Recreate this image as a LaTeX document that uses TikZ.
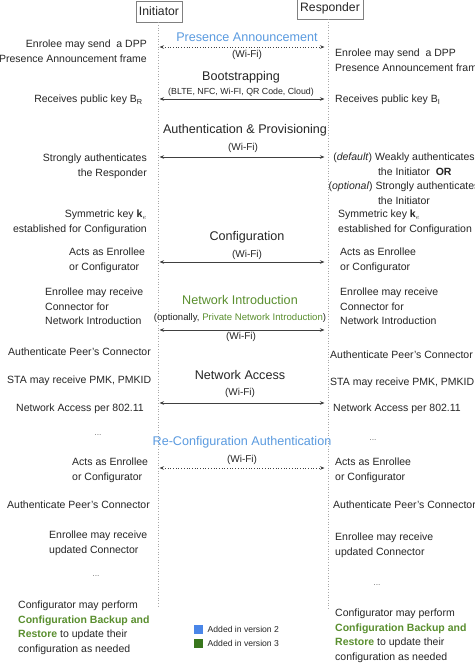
\documentclass[tikz,border=0pt]{standalone}
\usepackage{fontspec}
\setmainfont{Liberation Sans}
\usetikzlibrary{arrows.meta}
\definecolor{txt}{HTML}{262626}
\definecolor{bluet}{HTML}{5B9BE0}
\definecolor{greent}{HTML}{5A8F2F}
\definecolor{blueleg}{HTML}{4A86E8}
\definecolor{greenleg}{HTML}{38761D}
\definecolor{boxgray}{HTML}{808080}
\definecolor{lifegray}{HTML}{A8A8A8}
\definecolor{arrowc}{HTML}{404040}
\tikzset{
  body/.style={font=\fontsize{10.5}{14.5}\selectfont, inner sep=0pt, text=txt},
  lft/.style={body, align=right, anchor=north east},
  lfl/.style={body, align=left, anchor=north west},
  ctr/.style={body, align=center, anchor=north},
  ttl/.style={font=\fontsize{12.6}{15}\selectfont, inner sep=0pt, text=txt},
  wifi/.style={font=\fontsize{10}{12}\selectfont, inner sep=0pt, text=txt},
  small/.style={font=\fontsize{8.8}{11}\selectfont, inner sep=0pt, text=txt},
  dots/.style={font=\fontsize{8.5}{9}\selectfont, inner sep=0pt, text=txt!65},
  actor/.style={draw=boxgray, line width=0.8pt, font=\fontsize{12.2}{14}\selectfont, text=txt, inner sep=0pt},
  life/.style={draw=lifegray, dotted, line width=0.7pt},
  msg/.style={draw=arrowc, line width=0.7pt, {Stealth[length=4.5pt,width=3.5pt]}-{Stealth[length=4.5pt,width=3.5pt]}, shorten <=1pt, shorten >=4pt},
  msgd/.style={msg, dotted},
  lgsq/.style={minimum size=9pt, inner sep=0pt},
  lgtx/.style={font=\fontsize{8.6}{10}\selectfont, inner sep=0pt, text=txt, anchor=west},
}
\begin{document}
\begin{tikzpicture}[x=1pt,y=-1pt]
\useasboundingbox (0,0) rectangle (474,663);
\fill[white] (0,0) rectangle (474,663);

% actors
\node[actor, minimum width=46pt, minimum height=21pt] (ini) at (159,11.5) {Initiator};
\node[actor, minimum width=66pt, minimum height=22pt] (res) at (330,8) {Responder};
\coordinate (iniend) at (158.5,607);
\coordinate (resend) at (328.5,610);
\draw[life] (ini.south -| iniend) -- (iniend);
\draw[life] (res.south -| resend) -- (resend);

% message coordinates
\coordinate (i1) at (158.5,47);  \coordinate (r1) at (328.5,47);
\coordinate (i2) at (158.5,99);  \coordinate (r2) at (328.5,99);
\coordinate (i3) at (158.5,157); \coordinate (r3) at (328.5,157);
\coordinate (i4) at (158.5,262); \coordinate (r4) at (328.5,262);
\coordinate (i5) at (158.5,330); \coordinate (r5) at (328.5,330);
\coordinate (i6) at (158.5,403); \coordinate (r6) at (328.5,403);
\coordinate (i7) at (158.5,468); \coordinate (r7) at (328.5,468);
\draw[msgd] (i1) -- (r1);
\draw[msg] (i2) -- (r2);
\draw[msg] (i3) -- (r3);
\draw[msg] (i4) -- (r4);
\draw[msg] (i5) -- (r5);
\draw[msg] (i6) -- (r6);
\draw[msgd] (i7) -- (r7);

% titles
\node[ttl, text=bluet] (t1) at (247,37) {Presence Announcement};
\node[wifi] (w1) at (247,54.5) {(Wi-Fi)};
\node[ttl] (t2) at (241,77) {Bootstrapping};
\node[small] (s2) at (241,92) {(BLTE, NFC, Wi-FI, QR Code, Cloud)};
\node[ttl] (t3) at (245,130) {Authentication \& Provisioning};
\node[wifi] (w3) at (243,148) {(Wi-Fi)};
\node[ttl] (t4) at (247,237) {Configuration};
\node[wifi] (w4) at (247,255) {(Wi-Fi)};
\node[ttl, text=greent] (t5) at (240,300) {Network Introduction};
\node[font=\fontsize{9.6}{11}\selectfont, inner sep=0pt, text=txt] (s5) at (240,318) {(optionally, \textcolor{greent}{Private Network Introduction})};
\node[wifi] (w5) at (241,337) {(Wi-Fi)};
\node[ttl] (t6) at (240,375) {Network Access};
\node[wifi] (w6) at (240,393) {(Wi-Fi)};
\node[ttl, text=bluet] (t7) at (242,442) {Re-Configuration Authentication};
\node[wifi] (w7) at (242,460) {(Wi-Fi)};

% left column
\node[lft] (l1) at (147,40) {Enrolee may send\ \ a DPP\\Presence Announcement frame};
\node[lft] (l2) at (143,95) {Receives public key $\mathrm{B}_\mathrm{R}$};
\node[lft] (l3) at (147,154) {Strongly authenticates\\the Responder};
\node[lft] (l4) at (147,210) {Symmetric key $\mathbf{k}_e$\\established for Configuration};
\node[lfl] (l5) at (69,248) {Acts as Enrollee\\or Configurator};
\node[lfl] (l6) at (45,288) {Enrollee may receive\\Connector for\\Network Introduction};
\node[lfl] (l7) at (8,348) {Authenticate Peer's Connector};
\node[lfl] (l8) at (7,376) {STA may receive PMK, PMKID};
\node[lfl] (l9) at (16,404) {Network Access per 802.11};
\node[dots] (l10) at (98,435) {...};
\node[lfl] (l11) at (72,458) {Acts as Enrollee\\or Configurator};
\node[lfl] (l12) at (7,501) {Authenticate Peer's Connector};
\node[lfl] (l13) at (49,531) {Enrollee may receive\\updated Connector};
\node[dots] (l14) at (96,576) {...};
\node[lfl] (l15) at (18,601) {Configurator may perform\\\textcolor{greent}{\textbf{Configuration Backup and}}\\\textcolor{greent}{\textbf{Restore}} to update their\\configuration as needed};

% right column
\node[lfl] (r1t) at (335,49) {Enrolee may send\ \ a DPP\\Presence Announcement frame};
\node[lfl] (r2t) at (335,95) {Receives public key $\mathrm{B}_\mathrm{I}$};
\node[ctr] (r3t) at (404,153) {(\textit{default}) Weakly authenticates\\the Initiator\rlap{\ \ \textbf{OR}}\\(\textit{optional}) Strongly authenticates\\the Initiator};
\node[lfl] (r4t) at (338,210) {Symmetric key $\mathbf{k}_e$\\established for Configuration};
\node[lfl] (r5t) at (340,248) {Acts as Enrollee\\or Configurator};
\node[lfl] (r6t) at (340,288) {Enrollee may receive\\Connector for\\Network Introduction};
\node[lfl] (r7t) at (330,351) {Authenticate Peer's Connector};
\node[lfl] (r8t) at (330,378) {STA may receive PMK, PMKID};
\node[lfl] (r9t) at (333,404) {Network Access per 802.11};
\node[dots] (r10t) at (373,440) {...};
\node[lfl] (r11t) at (335,458) {Acts as Enrollee\\or Configurator};
\node[lfl] (r12t) at (333,501) {Authenticate Peer's Connector};
\node[lfl] (r13t) at (335,533) {Enrollee may receive\\updated Connector};
\node[dots] (r14t) at (377,585) {...};
\node[lfl] (r15t) at (335,609) {Configurator may perform\\\textcolor{greent}{\textbf{Configuration Backup and}}\\\textcolor{greent}{\textbf{Restore}} to update their\\configuration as needed};

% legend
\node[lgsq, fill=blueleg] (lg2) at (198.5,629) {};
\node[lgtx] (lg2t) at (207.5,629) {Added in version 2};
\node[lgsq, fill=greenleg] (lg3) at (198.5,643) {};
\node[lgtx] (lg3t) at (207.5,643) {Added in version 3};
\end{tikzpicture}
\end{document}
